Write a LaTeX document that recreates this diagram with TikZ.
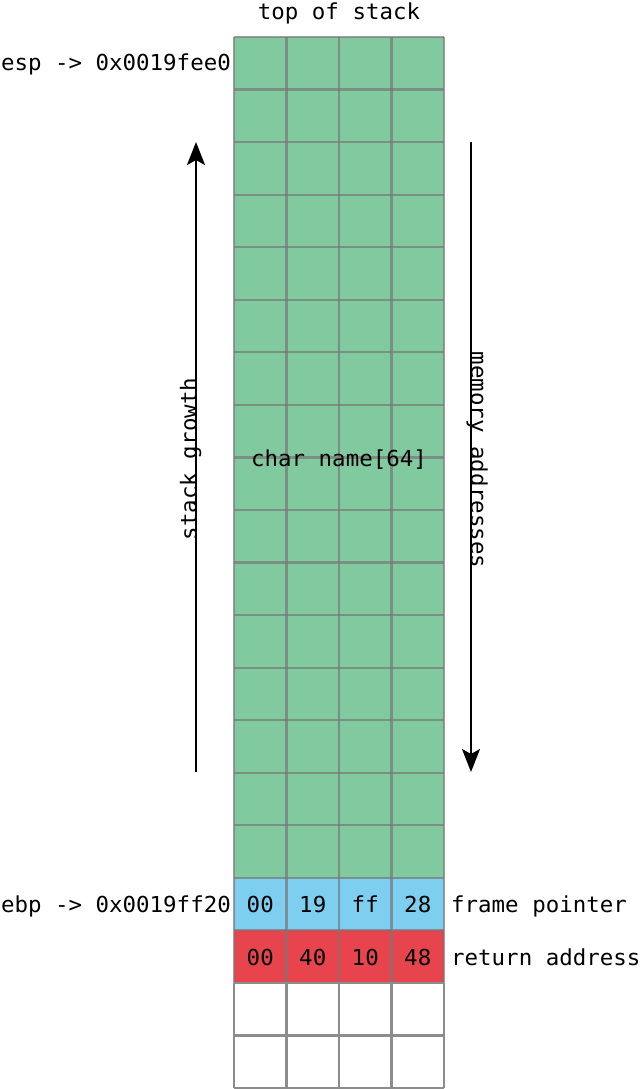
\documentclass[tikz,border=0pt]{standalone}
\usepackage{fontspec}
\newfontfamily\mono[FakeStretch=1.02]{DejaVu Sans Mono}
\usetikzlibrary{arrows.meta}
\definecolor{cgreen}{RGB}{129,202,159}
\definecolor{cblue}{RGB}{126,206,240}
\definecolor{cred}{RGB}{232,68,78}
\definecolor{cline}{RGB}{120,120,120}
\definecolor{wline}{RGB}{140,140,140}
\tikzset{
  lbl/.style={font=\mono\fontsize{22}{26}\selectfont, inner sep=0pt},
  cellline/.style={draw=cline, draw opacity=0.7, line width=2.2pt},
  whiteline/.style={draw=wline, line width=2.2pt},
  arr/.style={line width=2pt, -{Stealth[length=23pt,width=18pt,inset=5pt]}}
}
\begin{document}
\begin{tikzpicture}[x=1pt,y=-1pt]
\useasboundingbox (0,0) rectangle (640,1089);
\def\rh{52.55}
\def\cw{52.5}
% fills
\fill[cgreen] (234,37) rectangle (444,{37+16*\rh});
\fill[cblue] (234,{37+16*\rh}) rectangle (444,{37+17*\rh});
\fill[cred] (234,{37+17*\rh}) rectangle (444,{37+18*\rh});
% colored region lines
\foreach \r in {0,...,17} \draw[cellline] (234,{37+\r*\rh}) -- (444,{37+\r*\rh});
\foreach \c in {0,...,4} \draw[cellline] ({234+\c*\cw},37) -- ({234+\c*\cw},{37+18*\rh});
% white region lines
\foreach \r in {18,19,20} \draw[whiteline] (234,{37+\r*\rh}) -- (444,{37+\r*\rh});
\foreach \c in {0,...,4} \draw[whiteline] ({234+\c*\cw},{37+18*\rh}) -- ({234+\c*\cw},{37+20*\rh});
% labels
\node[lbl, anchor=base] (top) at (339,19.5) {top of stack};
\node[lbl, anchor=base east] (esp) at (231,71) {esp -> 0x0019fee0};
\node[lbl, anchor=base east] (ebp) at (231,912) {ebp -> 0x0019ff20};
\node[lbl, anchor=base west] (fp) at (451,912) {frame pointer};
\node[lbl, anchor=base west] (ra) at (451,965) {return address};
\node[lbl, anchor=base] (buf) at (339,466) {char name[64]};
% cell values
\node[lbl, anchor=base] (f0) at ({234+0.5*\cw},912) {00};
\node[lbl, anchor=base] (f1) at ({234+1.5*\cw},912) {19};
\node[lbl, anchor=base] (f2) at ({234+2.5*\cw},912) {ff};
\node[lbl, anchor=base] (f3) at ({234+3.5*\cw},912) {28};
\node[lbl, anchor=base] (r0) at ({234+0.5*\cw},965) {00};
\node[lbl, anchor=base] (r1) at ({234+1.5*\cw},965) {40};
\node[lbl, anchor=base] (r2) at ({234+2.5*\cw},965) {10};
\node[lbl, anchor=base] (r3) at ({234+3.5*\cw},965) {48};
% arrows
\coordinate (gb) at (196,772);
\coordinate (gt) at (196,142);
\draw[arr] (gb) -- (gt);
\coordinate (mt) at (471,142);
\coordinate (mb) at (471,772);
\draw[arr] (mt) -- (mb);
\node[lbl, anchor=base, rotate=90] (sg) at (196.5,459) {stack growth};
\node[lbl, anchor=base, rotate=-90] (ma) at (471,460) {memory addresses};
\end{tikzpicture}
\end{document}
